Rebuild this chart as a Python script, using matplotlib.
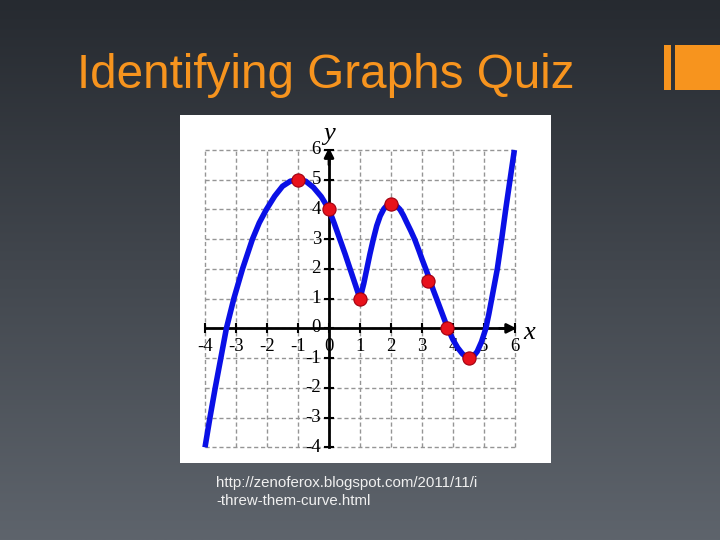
import numpy as np
import matplotlib
matplotlib.use("Agg")
import matplotlib.pyplot as plt

# ---- data ----
curve_x = [-4.0, -3.84, -3.67, -3.49, -3.31, -3.19, -3.07, -2.93, -2.79, -2.63, -2.47,
           -2.25, -2.02, -1.75, -1.5, -1.25, -1.0, -0.75, -0.5, -0.25,
           0.0, 0.17, 0.35, 0.52, 0.68, 0.84, 1.0, 1.12, 1.22, 1.32, 1.43, 1.54, 1.65,
           1.77, 1.88, 2.0, 2.15, 2.29, 2.4, 2.5, 2.64, 2.77, 2.9, 3.0, 3.15, 3.25,
           3.36, 3.47, 3.65, 3.83, 4.0, 4.15, 4.3, 4.42, 4.53, 4.65, 4.78, 4.92, 5.06,
           5.16, 5.25, 5.34, 5.43, 5.57, 5.7, 5.84, 5.98]
curve_y = [-4.0, -3.0, -2.0, -1.0, 0.0, 0.5, 1.0, 1.5, 2.0, 2.5, 3.0,
           3.55, 4.0, 4.45, 4.78, 4.95, 5.0, 4.95, 4.74, 4.43,
           4.0, 3.53, 3.0, 2.5, 2.0, 1.5, 1.0, 1.5, 2.0, 2.5, 3.0, 3.45, 3.78,
           4.02, 4.15, 4.2, 4.15, 4.0, 3.8, 3.58, 3.28, 2.98, 2.62, 2.33, 1.92, 1.63,
           1.3, 1.0, 0.5, 0.0, -0.38, -0.65, -0.85, -0.96, -1.0, -0.95, -0.78, -0.45, 0.0,
           0.5, 1.0, 1.5, 2.0, 3.0, 4.0, 5.0, 6.0]
dots_x = [-1, 0, 1, 2, 3.2, 3.8, 4.5]
dots_y = [5, 4, 1, 4.2, 1.6, 0, -1]
x_ticks = [-4, -3, -2, -1, 0, 1, 2, 3, 4, 5, 6]
y_ticks = [-4, -3, -2, -1, 0, 1, 2, 3, 4, 5, 6]
title_text = "Identifying Graphs Quiz"
source_text = "http://zenoferox.blogspot.com/2011/11/i\n-threw-them-curve.html"

W, H = 720, 540
fig = plt.figure(figsize=(W / 100, H / 100), dpi=100)

# background gradient
bg = fig.add_axes([0, 0, 1, 1])
top = np.array([0x26, 0x2a, 0x30]) / 255
bot = np.array([0x5e, 0x64, 0x6c]) / 255
t = np.linspace(0, 1, 256)[:, None]
grad = (top[None, :] * (1 - t) + bot[None, :] * t)[:, None, :]
grad = np.repeat(grad, 2, axis=1)
bg.imshow(grad, aspect="auto", extent=[0, 1, 0, 1], origin="upper")
bg.set_xlim(0, 1); bg.set_ylim(0, 1)
bg.axis("off")

orange = "#f7941e"
fig.text(77 / W, 1 - 76 / H, title_text, color=orange, fontsize=34.3,
         family="Liberation Sans", ha="left", va="center")
# decorative bars top right
bg.add_patch(plt.Rectangle((664 / W, 1 - 90 / H), 7 / W, 45 / H, color=orange, lw=0))
bg.add_patch(plt.Rectangle((675 / W, 1 - 90 / H), 45 / W, 45 / H, color=orange, lw=0))

fig.text(216 / W, 1 - 492 / H, source_text, color="#f0f0f0", fontsize=10.8,
         family="Liberation Sans", ha="left", va="center", linespacing=1.35)

# chart image box
L, R, T, B = 180, 551, 115, 463
ax = fig.add_axes([L / W, 1 - B / H, (R - L) / W, (B - T) / H])
ax.set_facecolor("white")
px_x = (515 - 205) / 10
px_y = (447.3 - 150) / 10
ax.set_xlim(-4 - (205 - L) / px_x, 6 + (R - 515) / px_x)
ax.set_ylim(-4 - (B - 447.3) / px_y, 6 + (150 - T) / px_y)
for s in ax.spines.values():
    s.set_visible(False)
ax.set_xticks([]); ax.set_yticks([])

grid_kw = dict(colors="#959595", linestyles=(0, (3, 2)), linewidth=1.0, zorder=1)
ax.vlines(x_ticks, -4, 6, **grid_kw)
ax.hlines(y_ticks, -4, 6, **grid_kw)

# axes with arrows
ax.plot([-4, 5.7], [0, 0], color="black", lw=2.0, zorder=2)
ax.plot([0, 0], [-4, 5.7], color="black", lw=2.0, zorder=2)
ax.annotate("", xy=(6.05, 0), xytext=(5.5, 0),
            arrowprops=dict(arrowstyle="-|>", color="black", lw=2.0,
                            mutation_scale=14, shrinkA=0, shrinkB=0), zorder=2)
ax.annotate("", xy=(0, 6.08), xytext=(0, 5.5),
            arrowprops=dict(arrowstyle="-|>", color="black", lw=2.0,
                            mutation_scale=14, shrinkA=0, shrinkB=0), zorder=2)
ax.plot(x_ticks, [0] * len(x_ticks), ls="none", marker="|", ms=7, mew=1.5,
        color="black", zorder=2)
ax.plot([0] * len(y_ticks), y_ticks, ls="none", marker="_", ms=7, mew=1.5,
        color="black", zorder=2)

serif = "Liberation Serif"
for v in x_ticks:
    ax.text(v, -0.62, str(v), ha="center", va="center", fontsize=13.5,
            family=serif, color="black", zorder=2)
for v in y_ticks:
    ax.text(-0.26, v + (0.03 if v == 0 else 0), str(v), ha="right", va="center",
            fontsize=13.5, family=serif, color="black", zorder=2)
ax.text(6.45, -0.15, "x", fontsize=19, family=serif, style="italic",
        ha="center", va="center", color="black")
ax.text(0.0, 6.55, "y", fontsize=19, family=serif, style="italic",
        ha="center", va="center", color="black")

ax.plot(curve_x, curve_y, color="#0a10e6", lw=4.0, solid_joinstyle="round",
        solid_capstyle="butt", zorder=3)
ax.plot(dots_x, dots_y, ls="none", marker="o", ms=9.5, mfc="#e8121c",
        mec="#a00010", mew=0.8, zorder=4)

fig.savefig("out.png", dpi=100)
